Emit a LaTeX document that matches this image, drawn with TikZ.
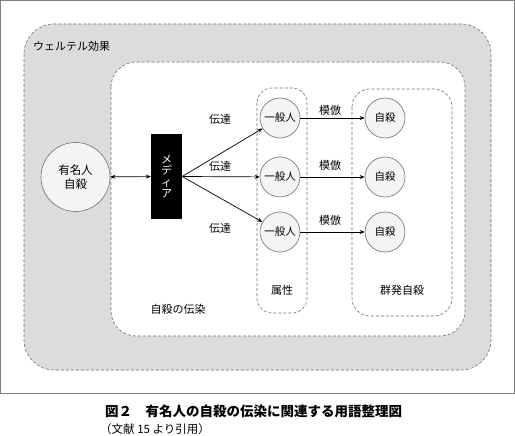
\documentclass[tikz,border=0pt]{standalone}
\usepackage{fontspec}
\setmainfont{Noto Sans CJK JP}
\usetikzlibrary{arrows.meta}
\definecolor{bggray}{HTML}{DCDCDC}
\definecolor{circfill}{HTML}{F4F4F6}
\definecolor{dashgray}{HTML}{707070}
\begin{document}
\begin{tikzpicture}[x=1pt,y=-1pt,
  region/.style={draw=dashgray,dash pattern=on 3pt off 2pt,line width=0.6pt},
  person/.style={circle,draw=dashgray,fill=circfill,line width=0.6pt,minimum size=40pt,inner sep=0pt,font=\fontsize{10.5}{12}\selectfont},
  lbl/.style={font=\fontsize{11}{13}\selectfont,inner sep=0pt},
  conn/.style={-{Stealth[length=5pt,width=4pt]},line width=0.7pt}]
\useasboundingbox (0,0) rectangle (515,436);
\draw[gray,line width=0.8pt] (0.5,0.5) rectangle (514.5,393);
\draw[region,fill=bggray,rounded corners=30pt] (24,24) rectangle (491,370);
\draw[region,fill=white,rounded corners=25pt] (111,62) rectangle (465,336);
\draw[region,rounded corners=15pt] (257,88) rectangle (307,313);
\draw[region,rounded corners=18pt] (352,89) rectangle (452,316);
\node[lbl,anchor=west] (wt) at (33,46) {ウェルテル効果};
\node[lbl] (jsd) at (178,309) {自殺の伝染};
\node[lbl] (zok) at (282,290) {属性};
\node[lbl] (gun) at (402,290) {群発自殺};
\node[person,minimum size=69pt,font=\fontsize{11.5}{14}\selectfont,align=center] (fam) at (75.5,177) {有名人\\自殺};
\node[fill=black,text=white,minimum width=31pt,minimum height=85pt,inner sep=0pt,font=\fontsize{11}{11.5}\selectfont,align=center] (med) at (166.5,176.5) {メ\\デ\\ィ\\ア};
\node[person] (p1) at (280,118) {一般人};
\node[person] (p2) at (280,177) {一般人};
\node[person] (p3) at (280,232) {一般人};
\node[person] (s1) at (385,118) {自殺};
\node[person] (s2) at (385,177) {自殺};
\node[person] (s3) at (385,232) {自殺};
\draw[conn,{Stealth[length=5pt,width=4pt]}-{Stealth[length=5pt,width=4pt]}] (fam) -- (med);
\draw[conn] (med.east) -- (p1);
\draw[conn] (med.east) -- (p2);
\draw[conn] (med.east) -- (p3);
\draw[conn] (p1) -- (s1);
\draw[conn] (p2) -- (s2);
\draw[conn] (p3) -- (s3);
\node[lbl] (d1) at (220,119) {伝達};
\node[lbl] (d2) at (220,166) {伝達};
\node[lbl] (d3) at (220,228) {伝達};
\node[lbl] (m1) at (330,110) {模倣};
\node[lbl] (m2) at (330,165) {模倣};
\node[lbl] (m3) at (330,220) {模倣};
\node[anchor=west,inner sep=0pt,font=\fontsize{13.5}{15}\selectfont\bfseries] (cap) at (105,411) {図２\hspace{1em}有名人の自殺の伝染に関連する用語整理図};
\node[anchor=west,inner sep=0pt,font=\fontsize{11.5}{13}\selectfont] (src) at (100,429) {（文献 15 より引用）};
\end{tikzpicture}
\end{document}
